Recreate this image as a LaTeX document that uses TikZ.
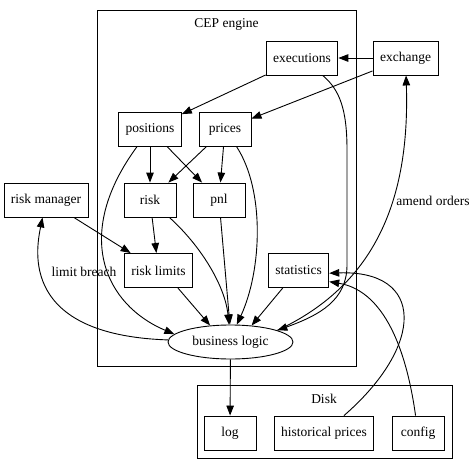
\documentclass[tikz,border=0pt]{standalone}
\usepackage{fontspec}
\setmainfont{Liberation Serif}
\usetikzlibrary{arrows.meta,shapes.geometric}
\tikzset{
  box/.style={draw, rectangle, line width=0.9pt, minimum width=52pt, minimum height=34pt, inner xsep=7pt},
  oval/.style={draw, ellipse, line width=0.9pt, minimum width=125pt, minimum height=34pt, inner sep=0pt},
  cluster/.style={draw, line width=0.9pt},
  flow/.style={line width=0.9pt, -{Triangle[length=10pt,width=7.5pt]}},
}
\begin{document}
\begin{tikzpicture}[x=1pt,y=-1pt,font=\fontsize{13.5}{16}\selectfont]
\useasboundingbox (0,0) rectangle (474,471);
\draw[cluster] (97,10) rectangle (356,366); % CEP engine
\node (cep) at (226.5,24) {CEP engine};
\draw[cluster] (197,385) rectangle (452,458); % Disk
\node (disk) at (324,399) {Disk};
\node[box] (exec) at (302,58) {executions};
\node[box] (exch) at (405.5,58) {exchange};
\node[box] (pos) at (150,129) {positions};
\node[box] (prc) at (225,129) {prices};
\node[box] (rman) at (46,200) {risk manager};
\node[box] (risk) at (150,200) {risk};
\node[box] (pnl) at (219,200) {pnl};
\node[box] (lim) at (158.5,270.5) {risk limits};
\node[box] (stats) at (298.5,270.5) {statistics};
\node[oval] (bl) at (230.5,342) {business logic};
\node[box] (log) at (230,433) {log};
\node[box] (hist) at (324,433) {historical prices};
\node[box] (cfg) at (418,433) {config};
\foreach \a/\b in {exch/exec, exec/pos, exch/prc, pos/risk, pos/pnl, prc/risk, prc/pnl, risk/lim, rman/lim, bl/log} % straight ones
\draw[flow] (\a) -- (\b);
\draw[flow] (lim.318) -- (bl.141);
\draw[flow] (stats.228) -- (bl.38);
\draw[flow] (pnl) -- (bl.92);
\draw[flow] (pos) .. controls (72,235) and (105,305) .. (bl.172);
\draw[flow] (prc) .. controls (265,190) and (262,270) .. (bl.70);
\draw[flow] (risk) .. controls (200,245) and (225,285) .. (bl.95);
\draw[flow] (exec) .. controls (340,90) and (347,110) .. (347,150) -- (347,265) .. controls (347,300) and (320,315) .. (bl.14);
\draw[flow] (bl.14) .. controls (375,285) and (410,200) .. (exch); % amend orders
\node (amend) at (433,201) {amend orders};
\draw[flow] (bl) .. controls (20,335) and (36,250) .. (rman); % limit breach
\node (breach) at (84,272) {limit breach};
\draw[flow] (hist) .. controls (425,345) and (425,270) .. (stats.-5);
\draw[flow] (cfg) .. controls (405,340) and (380,290) .. (stats.-20);
\end{tikzpicture}
\end{document}
